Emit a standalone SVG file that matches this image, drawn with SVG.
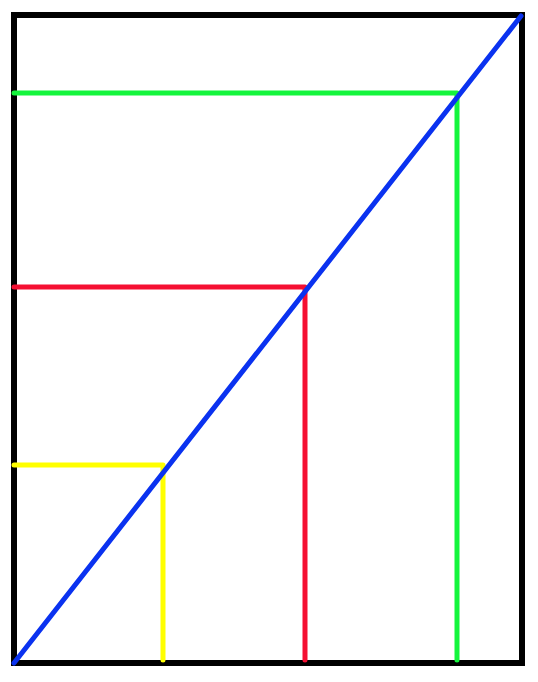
<svg xmlns="http://www.w3.org/2000/svg" width="538" height="682" viewBox="0 0 538 682">
<style>
.l{fill:none;stroke-width:5;stroke-linecap:round;stroke-linejoin:round}
</style>
<rect width="538" height="682" fill="#fff"/>
<rect id="frame" x="14" y="15" width="508" height="648" fill="none" stroke="#000" stroke-width="6"/>
<g id="connectors">
<polyline id="green" class="l" stroke="#14f53c" points="14,93 457,93 457,660"/>
<polyline id="red" class="l" stroke="#f50f32" points="14,287 305,287 305,660"/>
<polyline id="yellow" class="l" stroke="#ffff00" points="14,465 163,465 163,660"/>
<line id="blue" class="l" stroke="#0a32f0" x1="14" y1="663" x2="521" y2="16"/>
</g>
</svg>
